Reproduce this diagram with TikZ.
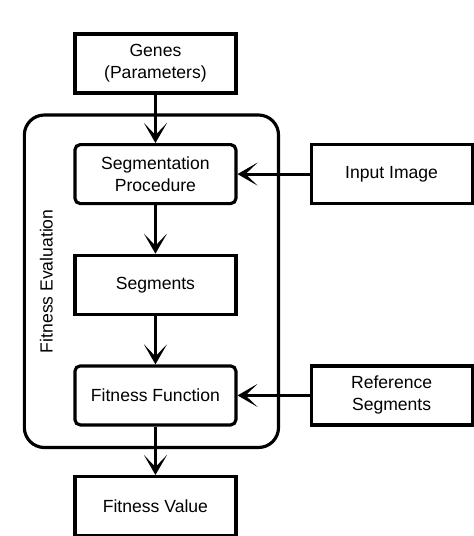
\documentclass[tikz,border=0pt]{standalone}
\usepackage{fontspec}
\setmainfont{Liberation Sans}
\usetikzlibrary{calc}
\usetikzlibrary{positioning}
\usetikzlibrary{arrows.meta}

\tikzset{
    box/.style={draw, line width=1.8pt, minimum width=3.22cm, minimum height=1.18cm,
        align=center, inner sep=0pt, font=\fontsize{10}{12.5}\selectfont},
    rbox/.style={box, rounded corners=3pt},
    flow/.style={line width=1.8pt, -{Stealth[length=0.4cm, width=0.46cm, inset=0.24cm]}},
}

\begin{document}
\begin{tikzpicture}
\useasboundingbox (0,0) rectangle (9.48,-10.72);
\matrix (chart) [row sep=0.97cm, column sep=1.44cm, inner sep=0pt, anchor=north west]
    at (1.46,-0.64) {
    \node[box] (genes) {Genes\\(Parameters)}; & \\
    %
    \node[rbox] (proc) {Segmentation\\Procedure}; &
    \node[box] (input) {Input Image}; \\
    %
    \node[box] (segs) {Segments}; & \\
    %
    \node[rbox] (fitfun) {Fitness Function}; &
    \node[box] (refsegs) {Reference\\Segments}; \\
    %
    \node[box] (fitval) {Fitness Value}; & \\
};
% fitness evaluation frame
\coordinate (evalnw) at ($(proc.north west)+(-0.98,0.56)$);
\coordinate (evalse) at ($(fitfun.south east)+(0.82,-0.42)$);
\draw[line width=1.8pt, rounded corners=0.4cm] (evalnw) rectangle (evalse);
\node[rotate=90, font=\fontsize{10}{12.5}\selectfont] (evaltext)
    at ($(evalnw)!0.5!(evalnw |- evalse)+(0.44,0)$) {Fitness Evaluation};
\foreach \a/\b in {genes/proc, proc/segs, segs/fitfun, fitfun/fitval, input/proc, refsegs/fitfun}
    \draw[flow] (\a) -- (\b);
\end{tikzpicture}
\end{document}
